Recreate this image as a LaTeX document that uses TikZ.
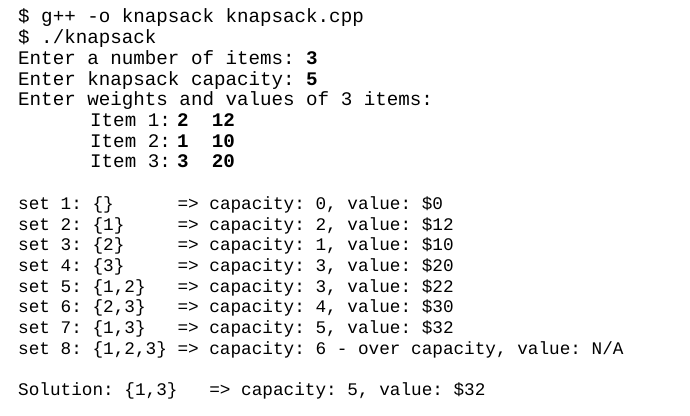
\documentclass[tikz,border=0pt]{standalone}
\usepackage{fontspec}
\setmonofont{Liberation Mono}
\begin{document}
\begin{tikzpicture}[x=1pt,y=-1pt,
  ln/.style={anchor=base west,inner sep=0pt,font=\fontsize{19.2}{20}\selectfont\ttfamily},
  sn/.style={anchor=base west,inner sep=0pt,font=\fontsize{17.7}{20}\selectfont\ttfamily}]
\useasboundingbox (0,0) rectangle (690,415);
\def\L#1{23+20.7*#1}
\node[ln] (l0) at (18,{\L{0}}) {\$ g++ -o knapsack knapsack.cpp};
\node[ln] (l1) at (18,{\L{1}}) {\$ ./knapsack};
\node[ln] (l2) at (18,{\L{2}}) {Enter a number of items: \textbf{3}};
\node[ln] (l3) at (18,{\L{3}}) {Enter knapsack capacity: \textbf{5}};
\node[ln] (l4) at (18,{\L{4}}) {Enter weights and values of 3 items:};
\node[ln] (l5) at (90,{\L{5}}) {Item 1:};
\node[ln] (l5b) at (177,{\L{5}}) {\textbf{2~~12}};
\node[ln] (l6) at (90,{\L{6}}) {Item 2:};
\node[ln] (l6b) at (177,{\L{6}}) {\textbf{1~~10}};
\node[ln] (l7) at (90,{\L{7}}) {Item 3:};
\node[ln] (l7b) at (177,{\L{7}}) {\textbf{3~~20}};
\node[sn] (s1) at (18,{\L{9}}) {set 1: \{\}~~~~~~=> capacity: 0, value: \$0};
\node[sn] (s2) at (18,{\L{10}}) {set 2: \{1\}~~~~~=> capacity: 2, value: \$12};
\node[sn] (s3) at (18,{\L{11}}) {set 3: \{2\}~~~~~=> capacity: 1, value: \$10};
\node[sn] (s4) at (18,{\L{12}}) {set 4: \{3\}~~~~~=> capacity: 3, value: \$20};
\node[sn] (s5) at (18,{\L{13}}) {set 5: \{1,2\}~~~=> capacity: 3, value: \$22};
\node[sn] (s6) at (18,{\L{14}}) {set 6: \{2,3\}~~~=> capacity: 4, value: \$30};
\node[sn] (s7) at (18,{\L{15}}) {set 7: \{1,3\}~~~=> capacity: 5, value: \$32};
\node[sn] (s8) at (18,{\L{16}}) {set 8: \{1,2,3\} => capacity: 6 - over capacity, value: N/A};
\node[sn] (sol) at (18,{\L{18}}) {Solution: \{1,3\}~~~=> capacity: 5, value: \$32};
\end{tikzpicture}
\end{document}
